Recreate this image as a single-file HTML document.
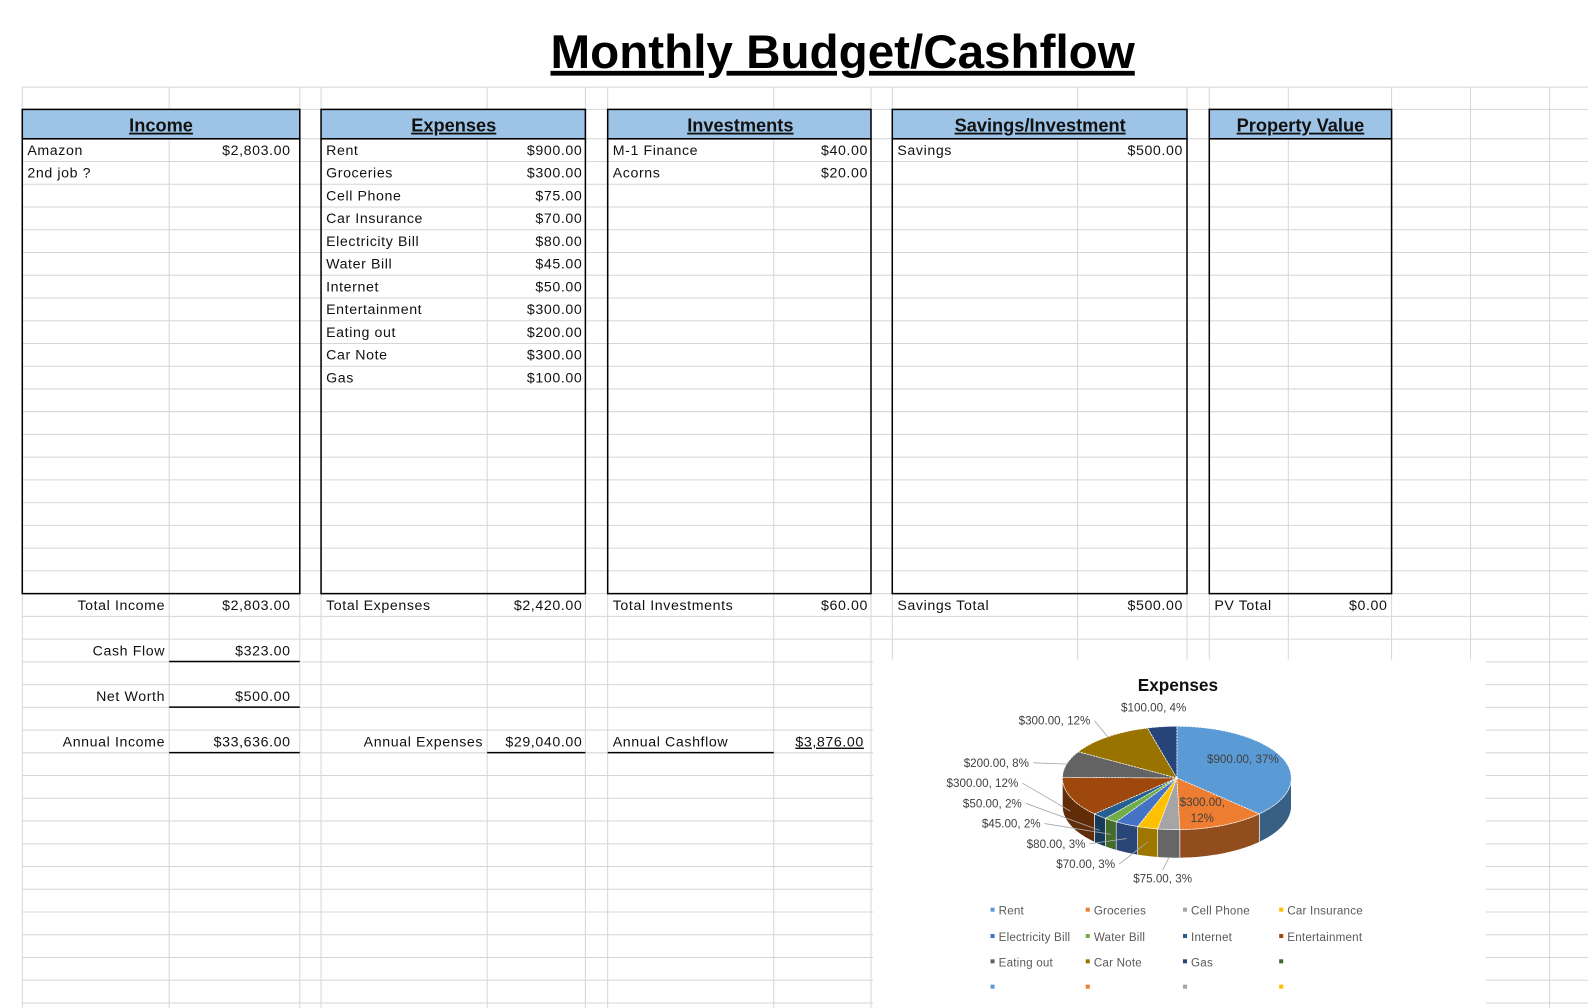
<!DOCTYPE html>
<html><head><meta charset="utf-8"><style>
html,body{margin:0;padding:0;background:#fff;}
svg{display:block;font-family:"Liberation Sans",sans-serif;}
.c{font-size:14px;fill:#111;letter-spacing:0.6px;}
.h{font-size:18px;font-weight:bold;fill:#111;text-decoration:underline;}
.lg{font-size:11.5px;fill:#595959;letter-spacing:0.2px;}
.dl{font-size:11.5px;fill:#404040;}
</style></head><body>
<svg id="s" width="1588" height="1008" viewBox="0 0 1588 1008" xmlns="http://www.w3.org/2000/svg">
<g transform="scale(1.0128,1.013)">
<rect x="0" y="0" width="1600" height="1000" fill="#fff"/>
<g id="grid"></g>
<g id="boxes"></g>
<text x="832" y="67" text-anchor="middle" font-size="47" font-weight="bold" fill="#000" text-decoration="underline">Monthly Budget/Cashflow</text>
<g>
<text class="h" x="159" y="130" text-anchor="middle">Income</text>
<text class="h" x="448" y="130" text-anchor="middle">Expenses</text>
<text class="h" x="731" y="130" text-anchor="middle">Investments</text>
<text class="h" x="1027" y="130" text-anchor="middle">Savings/Investment</text>
<text class="h" x="1284" y="130" text-anchor="middle">Property Value</text>
</g>
<g id="cells">
<text class="c" x="27" y="153">Amazon</text>
<text class="c" x="287" y="153" text-anchor="end">$2,803.00</text>
<text class="c" x="27" y="175">2nd job ?</text>
<text class="c" x="605" y="153">M-1 Finance</text>
<text class="c" x="857" y="153" text-anchor="end">$40.00</text>
<text class="c" x="605" y="175">Acorns</text>
<text class="c" x="857" y="175" text-anchor="end">$20.00</text>
<text class="c" x="886" y="153">Savings</text>
<text class="c" x="1168" y="153" text-anchor="end">$500.00</text>
<text class="c" x="163" y="602" text-anchor="end">Total Income</text>
<text class="c" x="287" y="602" text-anchor="end">$2,803.00</text>
<text class="c" x="322" y="602">Total Expenses</text>
<text class="c" x="575" y="602" text-anchor="end">$2,420.00</text>
<text class="c" x="605" y="602">Total Investments</text>
<text class="c" x="857" y="602" text-anchor="end">$60.00</text>
<text class="c" x="886" y="602">Savings Total</text>
<text class="c" x="1168" y="602" text-anchor="end">$500.00</text>
<text class="c" x="1199" y="602">PV Total</text>
<text class="c" x="1370" y="602" text-anchor="end">$0.00</text>
<text class="c" x="163" y="647" text-anchor="end">Cash Flow</text>
<text class="c" x="287" y="647" text-anchor="end">$323.00</text>
<text class="c" x="163" y="692" text-anchor="end">Net Worth</text>
<text class="c" x="287" y="692" text-anchor="end">$500.00</text>
<text class="c" x="163" y="737" text-anchor="end">Annual Income</text>
<text class="c" x="287" y="737" text-anchor="end">$33,636.00</text>
<text class="c" x="477" y="737" text-anchor="end">Annual Expenses</text>
<text class="c" x="575" y="737" text-anchor="end">$29,040.00</text>
<text class="c" x="605" y="737">Annual Cashflow</text>
<text class="c" x="853" y="737" text-anchor="end" text-decoration="underline">$3,876.00</text>
</g>
<g id="lines" stroke="#000" stroke-width="1.5">
<line x1="167" y1="653" x2="296" y2="653"/>
<line x1="167" y1="698" x2="296" y2="698"/>
<line x1="167" y1="743" x2="296" y2="743"/>
<line x1="481" y1="743" x2="578" y2="743"/>
<line x1="600" y1="743" x2="764" y2="743"/>
</g>
<g id="chart">
<rect x="862" y="651" width="605" height="360" fill="#fff"/>
<text x="1163" y="682" text-anchor="middle" font-size="17" font-weight="bold" fill="#111">Expenses</text>
<g id="pie"></g>
<g id="legend"></g>
</g>
</g>
</svg>
<script>
const categories=["Rent","Groceries","Cell Phone","Car Insurance","Electricity Bill","Water Bill","Internet","Entertainment","Eating out","Car Note","Gas"];
const values=[900,300,75,70,80,45,50,300,200,300,100];
const expenseLabels=["$900.00","$300.00","$75.00","$70.00","$80.00","$45.00","$50.00","$300.00","$200.00","$300.00","$100.00"];
const colors=["#5B9BD5","#ED7D31","#A5A5A5","#FFC000","#4472C4","#70AD47","#255E91","#9E480E","#636363","#997300","#264478"];
const NS="http://www.w3.org/2000/svg";
function mk(tag,attrs,parent){const e=document.createElementNS(NS,tag);for(const k in attrs)e.setAttribute(k,attrs[k]);parent.appendChild(e);return e;}
const grid=document.getElementById('grid');
const vx=[22,167,296,317,481,578,600,764,860,881,1064,1172,1194,1272,1374,1452,1530];
const rowY=[86,108];for(let i=0;i<=38;i++)rowY.push(137+22.45*i);
rowY.forEach(y=>{const l=mk('line',{x1:22,y1:y,x2:1600,y2:y,stroke:'#d6d6d6','stroke-width':1},grid);});
vx.forEach(x=>{const l=mk('line',{x1:x,y1:86,x2:x,y2:1000,stroke:'#d6d6d6','stroke-width':1},grid);});
const boxes=document.getElementById('boxes');
[[22,296],[317,578],[600,860],[881,1172],[1194,1374]].forEach(b=>{
 const h=mk('rect',{x:b[0],y:108,width:b[1]-b[0],height:29,fill:'#9DC3E6',stroke:'#000','stroke-width':1.5},boxes);
 
 const r=mk('rect',{x:b[0],y:137,width:b[1]-b[0],height:449,fill:'none',stroke:'#000','stroke-width':1.5},boxes);
 
});
const cells=document.getElementById('cells');
categories.forEach((c,i)=>{
 const y=137+22.45*i+16;
 const t=mk('text',{class:'c',x:322,y:y},cells);t.textContent=c;
 
 const v=mk('text',{class:'c',x:575,y:y,'text-anchor':'end'},cells);v.textContent=expenseLabels[i];
 
});
const pie=document.getElementById('pie');
const cx=1162,cy=768,rx=113,ry=51,dep=28;
const total=values.reduce((a,b)=>a+b,0);
function shade(hex,f){const n=parseInt(hex.slice(1),16);const r=(n>>16)*f,g=((n>>8)&255)*f,b=(n&255)*f;return `rgb(${r|0},${g|0},${b|0})`;}
function pt(a,dy){return [cx+rx*Math.cos(a),cy+ry*Math.sin(a)+(dy||0)];}
let cum=0;const sl=[];
values.forEach((v,i)=>{const a0=-Math.PI/2+2*Math.PI*cum/total;cum+=v;const a1=-Math.PI/2+2*Math.PI*cum/total;sl.push([a0,a1]);});
sl.forEach((s,i)=>{
 for(let k=-1;k<=1;k++){
  const lo=Math.max(s[0],k*2*Math.PI),hi=Math.min(s[1],k*2*Math.PI+Math.PI);
  if(hi<=lo)continue;
  let d='';const N=30;
  for(let j=0;j<=N;j++){const p=pt(lo+(hi-lo)*j/N);d+=(j?'L':'M')+p[0].toFixed(1)+','+p[1].toFixed(1);}
  for(let j=N;j>=0;j--){const p=pt(lo+(hi-lo)*j/N,dep);d+='L'+p[0].toFixed(1)+','+p[1].toFixed(1);}
  const e=mk('path',{d:d+'Z',fill:shade(colors[i],0.62),stroke:'#fff','stroke-width':0.6},pie);
  
  
 }
});
sl.forEach((s,i)=>{
 let d='M'+cx+','+cy;const N=40;
 for(let j=0;j<=N;j++){const p=pt(s[0]+(s[1]-s[0])*j/N);d+='L'+p[0].toFixed(1)+','+p[1].toFixed(1);}
 const e=mk('path',{d:d+'Z',fill:colors[i],stroke:'#fff','stroke-width':0.7,'stroke-dasharray':'2,1'},pie);
 
 
});
const cyc=cy+dep/2,ryc=ry+dep/2;
const grpInside=[],grpTop=[],grpBottom=[],grpLeft=[];
sl.forEach((s,i)=>{
 const m=(s[0]+s[1])/2,deg=((m*180/Math.PI)%360+360)%360;
 const pct=Math.round(100*values[i]/total);
 const o={i,m,deg,txt:expenseLabels[i]+', '+pct+'%'};
 if(values[i]/total>0.1&&(deg<90||deg>300)) grpInside.push(o);
 else if(deg>=200) grpTop.push(o);
 else if(deg<100) grpBottom.push(o);
 else grpLeft.push(o);
});
function label(o,x,y,anchor,ex){
 if(ex){const lx=anchor==='end'?x+2:x;const ln=mk('polyline',{points:`${ex[0].toFixed(1)},${ex[1].toFixed(1)} ${lx.toFixed(1)},${(y-4).toFixed(1)}`,fill:'none',stroke:'#a6a6a6','stroke-width':0.8},pie);
 }
 const t=mk('text',{class:'dl',x:anchor==='end'?x-2:x,y:y,'text-anchor':anchor},pie);t.textContent=o.txt;
 
}
grpInside.forEach(o=>{
 const x=cx+rx*0.55*Math.cos(o.m)+(o.i===0?8:0),y=cy+ry*0.55*Math.sin(o.m)+(o.i===0?-8:6);
 const parts=o.i===0?[o.txt]:[o.txt.split(', ')[0]+',',o.txt.split(', ')[1]];
 parts.forEach((p,k)=>{const t=mk('text',{class:'dl',x:x,y:y+4+(k-(parts.length-1)/2)*16,'text-anchor':'middle',fill:'#1f3550'},pie);t.textContent=p;
 });
});
grpTop.forEach(o=>{
 const x=cx+(rx+25)*Math.cos(o.m),y=cy+(ry+15)*Math.sin(o.m);
 const ex=pt(o.m);
 const anc=Math.abs(Math.cos(o.m))<0.5?'middle':'end';
 label(o,anc==='end'?x:x-5,y,anc,anc==='end'?ex:null);
});
grpBottom.forEach(o=>{
 const y=cy+ry+dep+24;const x=cx+rx*Math.cos(o.m)-6;
 const ex=pt(o.m,dep);
 const ln=mk('line',{x1:ex[0],y1:ex[1],x2:x,y2:y-12,stroke:'#a6a6a6','stroke-width':0.8},pie);
 
 label(o,x,y,'middle',null);
});
grpLeft.sort((a,b)=>a.deg-b.deg);
let prevY=cy+ry+dep+30;
grpLeft.forEach(o=>{
 let y=Math.min(cyc+(ry+40)*Math.sin(o.m),prevY-20);prevY=y;
 const q=Math.max(0,1-Math.pow((y-cyc)/ryc,2));
 const cont=cx-(rx+30)*Math.sqrt(q)-12;
 const x=Math.min(cont,cx+rx*Math.cos(o.m)-30);
 const ex=pt(o.m,Math.sin(o.m)>0.2?dep*0.5:0);
 label(o,x,y,'end',ex);
});
const legend=document.getElementById('legend');
const lcx=[980,1074,1170,1265],lry=[899,925,950,975];
const extra=["#43682B","#5B9BD5","#ED7D31","#A5A5A5","#FFC000"];
for(let k=0;k<16;k++){
 const col=k%4,row=Math.floor(k/4);
 const c=k<11?colors[k]:extra[k-11];
 const r=mk('rect',{x:lcx[col]-2,y:lry[row]-3,width:4,height:4,fill:c},legend);
 
 if(k<11){const t=mk('text',{class:'lg',x:lcx[col]+6,y:lry[row]+4},legend);t.textContent=categories[k];
 }
}
</script>
</body></html>
